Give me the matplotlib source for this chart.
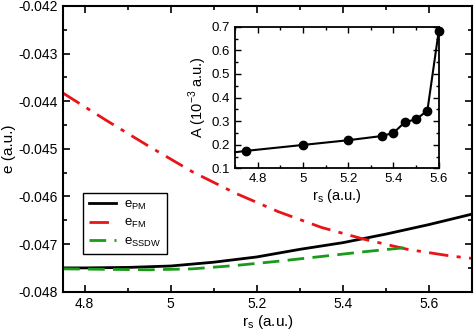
import numpy as np
import matplotlib
matplotlib.use("Agg")
import matplotlib.pyplot as plt
from matplotlib.ticker import MultipleLocator

plt.rcParams['font.family'] = ['Liberation Sans', 'DejaVu Sans']
plt.rcParams['mathtext.fontset'] = 'custom'
plt.rcParams['mathtext.rm'] = 'Liberation Sans'

# --- main panel data ---

rs_pm = [4.75, 4.8, 4.9, 5.0, 5.1, 5.2, 5.3, 5.4, 5.5, 5.6, 5.7]
e_pm = [-0.04750, -0.04750, -0.04749, -0.04746, -0.04738, -0.04727,
        -0.04711, -0.04697, -0.04679, -0.04659, -0.04637]

rs_fm = [4.75, 4.85, 4.95, 5.05, 5.15, 5.25, 5.35, 5.45, 5.55, 5.65, 5.7]
e_fm = [-0.04383, -0.04440, -0.04495, -0.04548, -0.04593, -0.04632,
        -0.04665, -0.04690, -0.04711, -0.04725, -0.04730]

rs_ssdw = [4.75, 4.85, 4.95, 5.05, 5.15, 5.25, 5.35, 5.45, 5.55]
e_ssdw = [-0.04752, -0.04753, -0.04754, -0.04752, -0.04745, -0.04736,
          -0.04726, -0.04716, -0.04707]

# --- inset data ---

rs_a = [4.7, 4.75, 5.0, 5.2, 5.35, 5.4, 5.45, 5.5, 5.55, 5.6]
amp = [0.168, 0.174, 0.199, 0.219, 0.237, 0.250, 0.295, 0.308, 0.344, 0.68]


fig = plt.figure(figsize=(4.74, 3.30), dpi=100)
ax = fig.add_axes([0.133, 0.116, 0.863, 0.866])

ax.plot(rs_pm, e_pm, color='black', lw=2.0, label=r'e$_{\mathrm{PM}}$')
ax.plot(rs_fm, e_fm, color='#e8141a', lw=2.0, dashes=(7, 3, 1.5, 3),
        label=r'e$_{\mathrm{FM}}$')
ax.plot(rs_ssdw, e_ssdw, color='#1a9a1a', lw=2.0, dashes=(6, 3),
        label=r'e$_{\mathrm{SSDW}}$')

ax.set_xlim(4.75, 5.7)
ax.set_ylim(-0.048, -0.042)
ax.xaxis.set_major_locator(MultipleLocator(0.2))
ax.xaxis.set_minor_locator(MultipleLocator(0.1))
ax.yaxis.set_major_locator(MultipleLocator(0.001))
ax.yaxis.set_minor_locator(MultipleLocator(0.0005))
ax.yaxis.set_major_formatter(plt.FuncFormatter(lambda v, p: f"{v:.3f}"))
ax.xaxis.set_major_formatter(plt.FuncFormatter(lambda v, p: f"{v:g}"))
ax.tick_params(which='both', direction='in', top=True, right=True,
               labelsize=10, width=1.2)
ax.tick_params(which='major', length=5)
ax.tick_params(which='minor', length=3)
for s in ax.spines.values():
    s.set_linewidth(1.5)

ax.set_xlabel(r'r$_{\mathrm{s}}$ (a.u.)', fontsize=11, labelpad=2)
ax.set_ylabel('e (a.u.)', fontsize=11, labelpad=2)

leg = ax.legend(loc='upper left', bbox_to_anchor=(0.05, 0.345),
                borderaxespad=0, fontsize=9.5, handlelength=2.1,
                frameon=True, fancybox=False, framealpha=1,
                edgecolor='black', borderpad=0.4, labelspacing=0.4,
                handletextpad=0.6)
leg.get_frame().set_linewidth(1.0)

# --- inset ---

axi = fig.add_axes([0.496, 0.49, 0.4295, 0.429])
axi.plot(rs_a, amp, color='black', lw=1.5, marker='o', ms=6,
         markevery=list(range(1, len(rs_a))), clip_on=False)
axi.set_xlim(4.7, 5.6)
axi.set_ylim(0.1, 0.7)
axi.xaxis.set_major_locator(MultipleLocator(0.2))
axi.xaxis.set_minor_locator(MultipleLocator(0.1))
axi.yaxis.set_major_locator(MultipleLocator(0.1))
axi.yaxis.set_minor_locator(MultipleLocator(0.05))
axi.xaxis.set_major_formatter(plt.FuncFormatter(lambda v, p: f"{v:g}"))
axi.tick_params(which='both', direction='in', top=True, right=True,
                labelsize=9.5, width=1.0)
axi.tick_params(which='major', length=4)
axi.tick_params(which='minor', length=2.5)
for s in axi.spines.values():
    s.set_linewidth(1.3)
axi.set_xlabel(r'r$_{\mathrm{s}}$ (a.u.)', fontsize=10.5, labelpad=1)
axi.set_ylabel(r'A (10$^{-3}$ a.u.)', fontsize=10.5, labelpad=2)

fig.savefig('out.png', dpi=100)
